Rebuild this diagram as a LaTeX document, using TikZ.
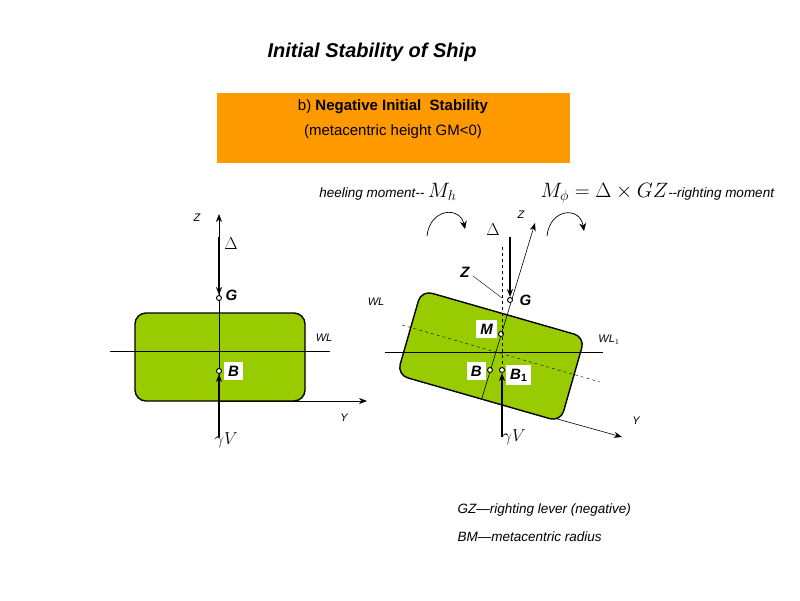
\documentclass[tikz,border=0pt]{standalone}
\usepackage{fontspec}
\setmainfont{Liberation Sans}
\usetikzlibrary{arrows.meta}
\definecolor{hull}{RGB}{153,204,0}
\definecolor{orng}{RGB}{255,153,0}
\begin{document}
\begin{tikzpicture}[x=1pt,y=-1pt,
  pt/.style={circle,draw,fill=white,inner sep=0pt,minimum size=5pt,line width=0.9pt},
  force/.style={line width=2.2pt,-{Stealth[length=8pt,width=6pt]}},
  axis/.style={line width=0.6pt,-{Stealth[length=8pt,width=6pt]}},
  small/.style={font=\itshape\fontsize{11}{12}\selectfont},
  big/.style={font=\fontsize{19}{20}\selectfont},
  lbl/.style={font=\bfseries\itshape\fontsize{15}{16}\selectfont,fill=white,inner sep=4pt},
  txt/.style={font=\itshape\fontsize{13.5}{15}\selectfont},
  hullbox/.style={draw,line width=1.4pt,fill=hull,rounded corners=11pt}]
\useasboundingbox (0,0) rectangle (800,600);
\node[font=\bfseries\itshape\fontsize{20}{24}\selectfont] (title) at (372,52) {Initial Stability of Ship};
\fill[orng] (217,93) rectangle (570,163);
\node[font=\fontsize{15}{17}\selectfont] (t1) at (393,107) {b) \textbf{Negative Initial\ \ Stability}};
\node[font=\fontsize{15}{17}\selectfont] (t2) at (393,132) {(metacentric height GM<0)};
% left ship
\coordinate (LY0) at (219,401); \coordinate (LY1) at (367,401);
\draw[axis] (LY0) -- (LY1);
\node[hullbox,minimum width=170pt,minimum height=88pt] (lhull) at (220,357) {};
\draw (110,351) -- (330,351);
\coordinate (LZ0) at (219,401); \coordinate (LZ1) at (219,214);
\draw[axis] (LZ0) -- (LZ1);
\node[pt] (G) at (219,298) {};
\node[pt] (B) at (219,371) {};
\node[lbl,anchor=west] (Bl) at (224,371) {B};
\node[font=\bfseries\itshape\fontsize{15}{16}\selectfont,anchor=west] (Gl) at (222,295) {G};
\coordinate (Dtop) at (219,237); \coordinate (Vbot) at (219,437);
\draw[force] (Dtop) -- (G);
\draw[force] (Vbot) -- (B);
\node[small] at (197,218) {Z};
\node[big] at (231,244) {$\Delta$};
\node[small] at (324,338) {WL};
\node[small] at (344,418) {Y};
\node[big] at (226,440) {$\gamma V$};
% right ship
\coordinate (RY0) at (482,398); \coordinate (RY1) at (622,437);
\draw[axis] (RY0) -- (RY1);
\node[hullbox,minimum width=170pt,minimum height=88pt,rotate=-16] (rhull) at (491,356) {};
\draw (385,352) -- (603,352);
\draw[dashed] (402,325) -- (600,382);
\coordinate (RZ1) at (535,223);
\draw[axis] (RY0) -- (RZ1);
\coordinate (Vt) at (502,247);
\node[pt] (G2) at (510,300) {};
\node[pt] (M) at (501,334) {};
\node[pt] (B2) at (490,370) {};
\node[pt] (B1) at (502,370) {};
\draw[dashed] (Vt) -- (B1);
\node[lbl,anchor=east] at (497,329) {M};
\node[lbl,anchor=east] at (486,371) {B};
\node[lbl,anchor=west] at (506,375) {B$_{\mathbf 1}$};
\node[font=\bfseries\itshape\fontsize{15}{16}\selectfont,anchor=west] at (516,300) {G};
\coordinate (D2) at (510,237); \coordinate (V2) at (502,437);
\draw[force] (D2) -- (G2);
\draw[force] (V2) -- (B1);
\node[font=\bfseries\itshape\fontsize{15}{16}\selectfont] (Zl) at (465,272) {Z};
\coordinate (Zp) at (502,298);
\draw (473,276) -- (Zp);
\node[small] at (376,302) {WL};
\node[small] at (609,340) {WL$_1$};
\node[small] at (636,421) {Y};
\node[small] at (521,215) {Z};
\node[big] at (493,230) {$\Delta$};
\node[big] at (514,437) {$\gamma V$};
% moments
\draw[-{Stealth[length=8pt,width=7pt]},line width=0.7pt] (427,236) .. controls (430,208) and (460,206) .. (465,229);
\draw[-{Stealth[length=8pt,width=7pt]},line width=0.7pt] (547,236) .. controls (550,208) and (580,206) .. (584,231);
\node[anchor=east,txt] at (460,192) {heeling moment{-}{-} \fontsize{20}{22}\selectfont$M_h$};
\node[anchor=west,txt] at (537,193) {\fontsize{20}{22}\selectfont$M_{\phi}=\Delta\times GZ$\fontsize{13.5}{15}\selectfont{-}{-}righting moment};
\node[anchor=west,txt] at (454,510) {GZ\textemdash righting lever (negative)};
\node[anchor=west,txt] at (454,537) {BM\textemdash metacentric radius};
\end{tikzpicture}
\end{document}
